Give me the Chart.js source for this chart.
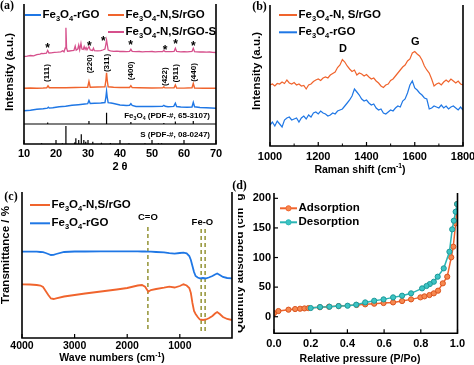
<!DOCTYPE html>
<html>
<head>
<meta charset="utf-8">
<script src="https://cdn.jsdelivr.net/npm/chart.js@4.4.0/dist/chart.umd.min.js"></script>
<style>
  body { margin: 0; background: #fff; width: 474px; height: 365px; position: relative; overflow: hidden; }
  canvas { position: absolute; }
</style>
</head>
<body>
<canvas id="xrd" width="237" height="180" style="left:0;top:0"></canvas>
<canvas id="raman" width="245" height="180" style="left:237px;top:0"></canvas>
<canvas id="ftir" width="237" height="185" style="left:0;top:180px"></canvas>
<canvas id="bet" width="246" height="185" style="left:228px;top:180px"></canvas>
<script>
// ---- (a) XRD, 2 theta vs intensity (a.u., curves stacked)
const xrdRgoX = [10,12,14,16,17.3,17.6,17.9,19,21,23,25,27,29,29.9,30.3,30.7,32,34,35.3,35.6,35.8,36.0,36.3,37.2,38,40,42,43.0,43.4,43.8,45,47,50,53.3,53.7,54.1,55,56.8,57.3,57.7,59,61,62.5,62.9,63.3,65,67,70];
const xrdRgoY = [33.3,33.8,34.7,35.2,35.8,36.8,35.9,36.3,37.2,37.8,38.7,39.3,40,40.3,43.6,40.5,40.7,41,41.5,47,52.8,47,41.3,41,40.5,39,38.5,38.7,40.3,38.5,37.5,37.6,37.5,37.8,38.7,37.7,37.3,37.6,40.7,37.5,37,36.8,37,41.7,37.2,36.5,36.3,35.7];
const xrdNsX = [10,12,14,16,17.1,17.5,17.9,20,23,26,28,29.9,30.3,30.7,33,35.3,35.6,35.8,36.0,36.3,38,40,43.0,43.4,43.8,46,50,53.4,53.7,54,56.9,57.3,57.7,60,62.5,62.9,63.3,66,70];
const xrdNsY = [55.7,56,55.8,56,56.2,58.2,56.3,56.3,56.2,56.5,56.6,56.8,62.5,56.8,57,57.3,64,71.3,64,57.2,56.8,56.5,56.5,58.3,56.4,56.2,56,56.2,57.2,56.1,56.2,59,56,55.9,56.2,60.5,56,55.8,55.7];
const xrdSX = [10,11,12,13,14,15,15.5,16,17,17.4,17.8,18.5,19.5,20.5,21.5,22.1,22.5,22.9,23.1,23.3,23.6,24.2,25,25.6,26.0,26.3,26.8,27.1,27.4,27.8,28.1,28.5,28.8,29.1,29.4,29.7,30.3,30.7,31.4,31.7,32.0,33,34,34.6,35.3,35.6,35.8,36.0,36.3,37.0,38,39,40,41,42,43.0,43.4,43.8,45,46,47,48,49,50,51,52,53.3,53.7,54.1,55,56,56.9,57.3,57.7,59,60,61,62.5,62.9,63.3,64,65,66,67,68,69,70];
const xrdSY = [87.3,87.8,88.5,88.2,89.3,89.8,90.6,90.3,90.8,93.5,91,91.2,91.6,91.8,92.1,93.3,92.2,96,116.3,96,92.8,93,93.3,93.5,98,93.8,95,99,94.2,100.7,95,94.6,97.5,94.6,96.5,94.2,97.5,94,93.5,95.8,93.3,93.2,93.3,94,95,100,104,100,94,93.2,92.7,92.8,92.5,92.6,92.4,92.6,94.7,92.6,92.3,92.5,92.2,92.4,92.3,92.5,92.2,92.4,92.5,93.5,92.4,92.3,92.4,92.6,95.7,92.5,92.2,92.4,92.1,92.5,95.7,92.3,92.2,92,92.2,91.8,92,91.6,91.5];
// reference patterns (stick positions and heights)
const fe3o4Pos = [17.4, 30.3, 35.8, 43.4, 53.7, 57.3, 62.9];
const fe3o4Int = [1.5, 3, 11.3, 2, 1, 2.5, 3];
const sulfurPos = [15.5, 22.0, 23.1, 25.8, 26.2, 27.1, 27.9, 28.7, 29.3, 31.5, 34.2, 37.0, 42.8, 47.8, 52.0, 53.0];
const sulfurInt = [0.8, 0.8, 18, 1.5, 5.7, 4, 9.7, 4, 2.3, 2.3, 1.2, 1, 0.8, 0.8, 0.8, 0.8];
const millerIdx = ['(111)', '(220)', '(311)', '(400)', '(422)', '(511)', '(440)'];
const millerPos = [17.1, 30.6, 36.0, 43.3, 54.1, 57.5, 63.0];
const millerY = [71, 80, 81, 73.2, 67.3, 70.7, 71.5];
const starPos = [17.4, 30.4, 34.8, 43.3, 54.1, 57.4, 62.9];
const starY = [99, 101.3, 106.3, 101.7, 97.3, 103, 100.7];
const xrdTicks = [10, 20, 30, 40, 50, 60, 70];

// ---- (b) Raman
const ramanShift = [1000,1010,1020,1030,1040,1050,1060,1070,1080,1090,1100,1110,1120,1130,1140,1150,1160,1170,1180,1190,1200,1210,1220,1230,1240,1250,1260,1270,1280,1290,1300,1310,1320,1330,1340,1350,1360,1370,1380,1390,1400,1410,1420,1430,1440,1450,1460,1470,1480,1490,1500,1510,1520,1530,1540,1550,1560,1570,1580,1590,1600,1610,1620,1630,1640,1650,1660,1670,1680,1690,1700,1710,1720,1730,1740,1750,1760,1770,1780,1790,1800];
const ramanNS = [61,62,60,62.5,62,64,62.5,66,63,62, 63.5,61,62,60,60.5,57,61,62,64.5,66, 67,65.5,68,69,68,71,72.5,74,78.5,81, 86.5,84,80,77,74.5,76,71,73,72,70, 71.5,69,67,68,65,63,60,58.5,61,62, 65.5,67,70,73,76,79,81,85,87,93, 94.5,92,90,86,80,76,73,67,60,62, 63,61,64,66,64,67,65,63,65,62, 61];
const ramanRGO = [21,24,20,25,22,19,26,28,29,26, 27,28,24,28,30,27,31,29,33,34, 32,35,33,32,30,31,33,32,35,36, 37,40,43,46,50,57,54,51,47,45, 46,43,41,42,38,36,37,33,32,34, 36,35,38,40,39,45,47,53,61,65, 58,56,53,51,48,47,37,38,40,39, 38,41,38,40,37,39,40,38,36,39, 36];
const ramanTicks = [1000, 1200, 1400, 1600, 1800];
const ramanMinor = [1100, 1300, 1500, 1700];

// ---- (c) FTIR
const ftirWave = [4000,3850,3720,3650,3600,3550,3500,3450,3400,3350,3200,3000,2800,2500,2200,2000,1800,1720,1660,1620,1600,1550,1450,1300,1200,1100,1000,930,870,820,790,760,730,700,660,620,560,500,450,380,330,290,240,180,100,10];
const ftirNS = [53.7,53.5,53,52.5,51,47,43,39.5,39,39.7,41.5,43,44.5,46.5,48.5,50,52.5,53,51.3,48,46.3,48,49,50.3,51.3,50.5,52,53.7,52.5,50,45,35,27,24,21,18.5,18,18.5,19.7,22,24.5,26,24,21,19,18];
const ftirRGO = [86.3,86.3,86.3,86,85.8,85,84,83,83.2,84,86,86.5,86.5,86.6,86.7,86.7,86.6,86.5,86.5,86.4,86.3,86.3,86,85.7,84.8,84.3,85,85.3,84.6,82,78,72,66,62,60.5,59.7,60,59.7,60.5,62,63.5,64.5,63,61,60,59.7];
const bandPos = [1607, 594, 519];
const bandLow = [9, 7, 7];
const bandHigh = [113, 109, 109];
const ftirTicks = [4000, 3000, 2000, 1000];

// ---- (d) N2 isotherm
const adsP = [0.0,0.024,0.079,0.115,0.142,0.166,0.188,0.25,0.30,0.352,0.45,0.497,0.546,0.597,0.649,0.698,0.747,0.798,0.82,0.847,0.871,0.894,0.92,0.944,0.966,0.977,0.99,0.998];
const adsQ = [6,9.6,11.9,13,13.5,14,14.6,16,17,18,19.8,20.9,22,23.1,24.2,26.5,29.3,32.7,34.4,36.6,39.5,44,56.4,67.6,100.3,118.3,157.8,190.4];
const desP = [0.998,0.99,0.98,0.971,0.956,0.925,0.892,0.871,0.849,0.831,0.807,0.747,0.698,0.649,0.597,0.546,0.497,0.448,0.401,0.352,0.302,0.251,0.2];
const desQ = [190.4,177.4,162.2,147.6,109.8,81.7,67.6,59.1,55.2,51.9,47.9,39.5,35.5,32.7,29.3,27,24.2,20.3,18.6,18,16.9,16.4,14.7];
const betXTicks = [0, 0.2, 0.4, 0.6, 0.8, 1.0];
const betYTicks = [0, 50, 100, 150, 200];

const BLUE = '#1f77e5', ORANGE = '#f0642d', PINK = '#d6508c', TEAL = '#2ab5b5', OLIVE = '#9a9a40';
const FONT = '"Liberation Sans", Arial, sans-serif';
const SERIF = '"Liberation Serif", "Times New Roman", serif';

function pts(xs, ys) { return xs.map((x, i) => ({ x: x, y: ys[i] })); }
function sticks(pos, h, base) {
  const out = [];
  pos.forEach((x, i) => { out.push({ x: x, y: base }, { x: x, y: base + h[i] }, { x: x, y: null }); });
  return out;
}
function fixedTicks(list) {
  return s => { s.ticks = list.map(v => ({ value: v })); };
}

// text with _x subscripts and ^{..} superscripts
function parseRich(str) {
  const parts = [];
  let i = 0;
  while (i < str.length) {
    const c = str[i];
    if (c === '_' || c === '^') {
      let t;
      if (str[i + 1] === '{') { const j = str.indexOf('}', i); t = str.slice(i + 2, j); i = j + 1; }
      else { t = str[i + 1]; i += 2; }
      parts.push({ t: t, k: c });
    } else {
      let j = i;
      while (j < str.length && str[j] !== '_' && str[j] !== '^') j++;
      parts.push({ t: str.slice(i, j), k: '' });
      i = j;
    }
  }
  return parts;
}
function richText(ctx, str, x, y, size, align, rot) {
  const parts = parseRich(str);
  const big = 'bold ' + size + 'px ' + FONT;
  const small = 'bold ' + (size * 0.65).toFixed(1) + 'px ' + FONT;
  let w = 0;
  parts.forEach(p => { ctx.font = p.k ? small : big; p.w = ctx.measureText(p.t).width; w += p.w; });
  ctx.save();
  ctx.translate(x, y);
  if (rot) ctx.rotate(rot);
  let cx = align === 'center' ? -w / 2 : align === 'right' ? -w : 0;
  ctx.textBaseline = 'middle';
  ctx.textAlign = 'left';
  ctx.fillStyle = '#000';
  parts.forEach(p => {
    ctx.font = p.k ? small : big;
    const dy = p.k === '_' ? size * 0.32 : p.k === '^' ? -size * 0.33 : 0;
    ctx.fillText(p.t, cx, dy);
    cx += p.w;
  });
  ctx.restore();
}
function line(ctx, x1, y1, x2, y2) {
  ctx.beginPath(); ctx.moveTo(x1, y1); ctx.lineTo(x2, y2); ctx.stroke();
}
function panelLabel(ctx, t, x, y) {
  ctx.font = 'bold 12px ' + SERIF;
  ctx.fillStyle = '#000';
  ctx.textAlign = 'center';
  ctx.textBaseline = 'middle';
  ctx.fillText(t, x, y);
}
function legendItem(ctx, x1, x2, y, color, text, dot) {
  ctx.strokeStyle = color;
  ctx.lineWidth = 2;
  line(ctx, x1, y, x2, y);
  if (dot) {
    ctx.beginPath();
    ctx.arc((x1 + x2) / 2, y, 2.6, 0, Math.PI * 2);
    ctx.fillStyle = dot; ctx.fill();
    ctx.lineWidth = 1; ctx.stroke();
  }
  richText(ctx, text, x2 + 1.5, y, 11.5, 'left');
}

// decorations drawn in page coordinates
function decor(off, draw) {
  return {
    id: 'decor',
    afterDraw(chart) {
      const ctx = chart.ctx;
      const xs = chart.scales.x, ys = chart.scales.y, a = chart.chartArea;
      const g = {
        X: v => xs.getPixelForValue(v) + off[0],
        Y: v => ys.getPixelForValue(v) + off[1],
        l: a.left + off[0], r: a.right + off[0], t: a.top + off[1], b: a.bottom + off[1],
        xs: xs, ys: ys
      };
      ctx.save();
      ctx.translate(-off[0], -off[1]);
      // frame: left, bottom, right
      ctx.strokeStyle = '#000';
      ctx.lineWidth = 1.6;
      ctx.beginPath();
      ctx.moveTo(g.l, g.t); ctx.lineTo(g.l, g.b); ctx.lineTo(g.r, g.b); ctx.lineTo(g.r, g.t);
      ctx.stroke();
      ctx.lineWidth = 1.2;
      xs.ticks.forEach(t => { const p = g.X(t.value); line(ctx, p, g.b, p, g.b - 4); });
      draw(ctx, g);
      ctx.restore();
    }
  };
}
function tickFont(size) { return { family: FONT, size: size, weight: 'bold' }; }

function options(area, size, xScale, yScale) {
  return {
    responsive: false,
    animation: false,
    devicePixelRatio: 1,
    events: [],
    elements: { line: { tension: 0 }, point: { radius: 0 } },
    plugins: { legend: { display: false }, tooltip: { enabled: false } },
    layout: { padding: { left: 0, top: area[1], right: size[0] - area[2], bottom: 0 } },
    scales: {
      x: Object.assign({
        type: 'linear',
        grid: { display: false, drawTicks: false },
        border: { display: false },
        afterFit: s => { s.height = size[1] - area[3]; }
      }, xScale),
      y: Object.assign({
        type: 'linear',
        grid: { display: false, drawTicks: false },
        border: { display: false },
        ticks: { display: false },
        afterFit: s => { s.width = area[0]; }
      }, yScale)
    }
  };
}

// (a) XRD
new Chart(document.getElementById('xrd'), {
  type: 'line',
  data: {
    datasets: [
      { data: pts(xrdSX, xrdSY), borderColor: PINK, borderWidth: 1.3 },
      { data: pts(xrdNsX, xrdNsY), borderColor: ORANGE, borderWidth: 1.4 },
      { data: pts(xrdRgoX, xrdRgoY), borderColor: BLUE, borderWidth: 1.4 },
      { data: sticks(fe3o4Pos, fe3o4Int, 20), borderColor: '#000', borderWidth: 1.2, spanGaps: false },
      { data: sticks(sulfurPos, sulfurInt, 0), borderColor: '#000', borderWidth: 1.2, spanGaps: false }
    ]
  },
  options: options([24, 4, 216, 144], [237, 180],
    { min: 10, max: 70, afterBuildTicks: fixedTicks(xrdTicks),
      ticks: { color: '#000', font: tickFont(11), padding: 3, maxRotation: 0, autoSkip: false, callback: v => String(v) } },
    { min: 0, max: 140 }),
  plugins: [decor([0, 0], (ctx, g) => {
    ctx.strokeStyle = '#000';
    ctx.lineWidth = 1.2;
    line(ctx, g.l, g.Y(20), g.r, g.Y(20));
    ctx.font = 'bold 12px ' + FONT;
    ctx.fillStyle = '#000';
    ctx.textAlign = 'center';
    ctx.textBaseline = 'alphabetic';
    starPos.forEach((p, i) => ctx.fillText('*', g.X(p), g.Y(starY[i]) + 6.8));
    millerIdx.forEach((t, i) => richText(ctx, t, g.X(millerPos[i]), g.Y(millerY[i]), 8, 'center', -Math.PI / 2));
    richText(ctx, 'Fe_3O_4 (PDF-#, 65-3107)', 210, 116, 8, 'right');
    richText(ctx, 'S (PDF-#, 08-0247)', 210, 135, 8, 'right');
    legendItem(ctx, 25, 41, 15, BLUE, 'Fe_3O_4-rGO');
    legendItem(ctx, 108, 124, 15, ORANGE, 'Fe_3O_4-N,S/rGO');
    legendItem(ctx, 108, 124, 32, PINK, 'Fe_3O_4-N,S/rGO-S');
    richText(ctx, 'Intensity (a.u.)', 10, 72, 11.5, 'center', -Math.PI / 2);
    richText(ctx, '2 θ', 120, 167, 11, 'center');
    panelLabel(ctx, '(a)', 7, 6);
  })]
});

// (b) Raman
new Chart(document.getElementById('raman'), {
  type: 'line',
  data: {
    datasets: [
      { data: pts(ramanShift, ramanNS), borderColor: ORANGE, borderWidth: 1.2 },
      { data: pts(ramanShift, ramanRGO), borderColor: BLUE, borderWidth: 1.2 }
    ]
  },
  options: options([33, 5, 226, 146], [245, 180],
    { min: 1000, max: 1800, afterBuildTicks: fixedTicks(ramanTicks),
      ticks: { color: '#000', font: tickFont(11), padding: 4, maxRotation: 0, autoSkip: false, callback: v => String(v) } },
    { min: 0, max: 141 }),
  plugins: [decor([237, 0], (ctx, g) => {
    ctx.strokeStyle = '#000';
    ctx.lineWidth = 1;
    ramanMinor.forEach(v => line(ctx, g.X(v), g.b, g.X(v), g.b - 2.5));
    richText(ctx, 'D', g.X(1302), g.Y(97), 11, 'center');
    richText(ctx, 'G', g.X(1602), g.Y(104.3), 11, 'center');
    legendItem(ctx, 279, 297, 15, ORANGE, 'Fe_3O_4-N, S/rGO');
    legendItem(ctx, 279, 297, 32.3, BLUE, 'Fe_3O_4-rGO');
    richText(ctx, 'Intensity (a.u.)', 257, 71, 11.5, 'center', -Math.PI / 2);
    richText(ctx, 'Raman shift (cm^{-1})', 360, 170, 10.5, 'center');
    panelLabel(ctx, '(b)', 259.5, 7);
  })]
});

// (c) FTIR
const bandSets = bandPos.map((p, i) => ({
  data: [{ x: p, y: bandLow[i] }, { x: p, y: bandHigh[i] }],
  borderColor: OLIVE, borderWidth: 1.6, borderDash: [4, 3]
}));
new Chart(document.getElementById('ftir'), {
  type: 'line',
  data: {
    datasets: [
      { data: pts(ftirWave, ftirNS), borderColor: ORANGE, borderWidth: 1.8 },
      { data: pts(ftirWave, ftirRGO), borderColor: BLUE, borderWidth: 1.8 }
    ].concat(bandSets)
  },
  options: options([22, 12, 232, 158], [237, 185],
    { min: 8, max: 4000, reverse: true, afterBuildTicks: fixedTicks(ftirTicks),
      ticks: { color: '#000', font: tickFont(10.5), padding: 2, maxRotation: 0, autoSkip: false, callback: v => String(v) } },
    { min: 0, max: 146 }),
  plugins: [decor([0, 180], (ctx, g) => {
    richText(ctx, 'C=O', g.X(1607), g.Y(120.3), 9.5, 'center');
    richText(ctx, 'Fe-O', g.X(570), g.Y(115.3), 9.5, 'center');
    legendItem(ctx, 30, 50, 205, ORANGE, 'Fe_3O_4-N,S/rGO');
    legendItem(ctx, 30, 50, 223.3, BLUE, 'Fe_3O_4-rGO');
    richText(ctx, 'Transmittance / %', 6, 255, 11.5, 'center', -Math.PI / 2);
    richText(ctx, 'Wave numbers (cm^{-1})', 112, 358.5, 10.5, 'center');
    panelLabel(ctx, '(c)', 11, 196.7);
  })]
});

// (d) BET isotherm
new Chart(document.getElementById('bet'), {
  type: 'line',
  data: {
    datasets: [
      { data: pts(desP, desQ), borderColor: TEAL, borderWidth: 1.5, pointRadius: 2.6,
        pointBackgroundColor: '#3cc4c4', pointBorderColor: '#1e9898', pointBorderWidth: 1 },
      { data: pts(adsP, adsQ), borderColor: ORANGE, borderWidth: 1.5, pointRadius: 2.6,
        pointBackgroundColor: '#f7884f', pointBorderColor: '#d9541f', pointBorderWidth: 1 }
    ]
  },
  options: options([46, 13, 229.5, 153.3], [246, 185],
    { min: 0, max: 1.0, afterBuildTicks: fixedTicks(betXTicks),
      ticks: { color: '#000', font: tickFont(11), padding: 4, maxRotation: 0, autoSkip: false, callback: v => v.toFixed(1) } },
    { min: -28, max: 209, afterBuildTicks: fixedTicks(betYTicks) }),
  plugins: [decor([228, 180], (ctx, g) => {
    ctx.strokeStyle = '#000';
    ctx.lineWidth = 1.2;
    ctx.fillStyle = '#000';
    ctx.font = 'bold 11px ' + FONT;
    ctx.textAlign = 'right';
    ctx.textBaseline = 'middle';
    g.ys.ticks.forEach(t => {
      const p = g.Y(t.value);
      line(ctx, g.l, p, g.l + 4, p);
      ctx.fillText(String(t.value), g.l - 3, p);
    });
    legendItem(ctx, 280, 297, 208.3, ORANGE, 'Adsorption', '#f7884f');
    legendItem(ctx, 280, 297, 222.3, TEAL, 'Desorption', '#3cc4c4');
    // the left half of this title is cut off in the figure
    ctx.save();
    ctx.beginPath();
    ctx.rect(238, 190, 40, 175);
    ctx.clip();
    richText(ctx, 'Quantity adsorbed (cm^3 g^{-1})', 240, 258, 11.5, 'center', -Math.PI / 2);
    ctx.restore();
    richText(ctx, 'Relative pressure (P/Po)', 360, 359, 10.5, 'center');
    panelLabel(ctx, '(d)', 239.5, 186);
  })]
});
</script>
</body>
</html>
